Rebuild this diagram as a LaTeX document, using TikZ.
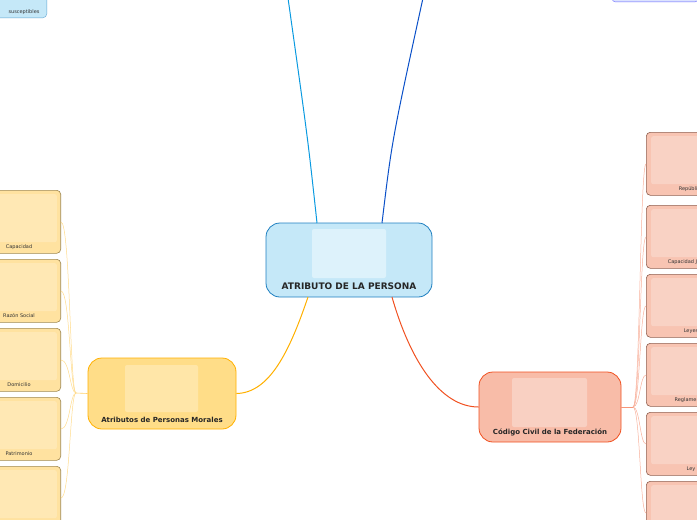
\documentclass[tikz,border=0pt]{standalone}
\usepackage{fontspec}
\setmainfont{DejaVu Sans}
\definecolor{cfill}{HTML}{C5E8F8}\definecolor{cline}{HTML}{1E7FC0}\definecolor{cin}{HTML}{DDF2FB}
\definecolor{ofill}{HTML}{FFDD88}\definecolor{oline}{HTML}{FFB000}\definecolor{oin}{HTML}{FFE6A8}
\definecolor{ochild}{HTML}{FFE2A0}\definecolor{ochin}{HTML}{FFE8B4}\definecolor{ochb}{HTML}{A08850}
\definecolor{rfill}{HTML}{F8BCA8}\definecolor{rline}{HTML}{F05020}\definecolor{rin}{HTML}{F9D0C2}
\definecolor{rchild}{HTML}{F8C4B2}\definecolor{rchin}{HTML}{F9D2C4}\definecolor{rchb}{HTML}{906050}
\definecolor{l1}{HTML}{0A9AE0}\definecolor{l2}{HTML}{0A50C8}
\begin{document}
\begin{tikzpicture}[x=1pt,y=-1pt,
  box/.style={draw,line width=0.8pt,rounded corners=14pt,inner sep=0pt},
  inbox/.style={rounded corners=2pt,inner sep=0pt},
  cbox/.style={draw=#1,line width=0.6pt,rounded corners=4pt,inner sep=0pt,minimum width=70pt,minimum height=63pt,anchor=north west},
  ttl/.style={font=\bfseries\fontsize{7}{9}\selectfont,text=black!85},
  sml/.style={font=\fontsize{5}{6}\selectfont,text=black!80}]
\useasboundingbox (0,0) rectangle (697,520);
\clip (0,0) rectangle (697,520);
% top lines
\coordinate (t1) at (288,-2); \coordinate (t2) at (423,-2);
% center
\node[box,draw=cline,fill=cfill,minimum width=166pt,minimum height=74pt] (c) at (349,260) {};
\node[inbox,fill=cin,minimum width=74pt,minimum height=49pt] (ci) at (349,253.5) {};
\node[ttl,font=\bfseries\fontsize{9}{10}\selectfont] (ct) at (349,286) {ATRIBUTO DE LA PERSONA};
\draw[color=l1,line width=1pt] (317,223) .. controls (308,140) .. (t1);
\draw[color=l2,line width=1pt] (382,223) .. controls (392,140) .. (t2);
% top fragments
\node[draw=cline!70,fill=cfill,rounded corners=4pt,minimum width=70pt,minimum height=40pt,anchor=south east] (tl) at (47,18) {};
\node[sml] (tlt) at (24,12) {susceptibles};
\node[draw=blue!60,fill=cfill!70!blue!30,rounded corners=3pt,minimum width=86pt,minimum height=20pt,anchor=south west] (tr) at (612,2) {};
% left main
\node[box,draw=oline,fill=ofill,minimum width=148pt,minimum height=71pt] (L) at (162,393.5) {};
\node[inbox,fill=oin,minimum width=73pt,minimum height=47pt] (Li) at (161.5,388.5) {};
\node[ttl] (Lt) at (162,420) {Atributos de Personas Morales};
\draw[color=oline,line width=1pt] (308,297) .. controls (290,350) and (270,393) .. (L.east);
\coordinate (lj) at (76,393);
\draw[color=oline!60,line width=0.6pt] (L.west) -- (lj);
\foreach \y/\t/\n in {190/Capacidad/a,259/Razón Social/b,328/Domicilio/c,397/Patrimonio/d,466/{}/e}{
  \node[cbox=ochb,fill=ochild,anchor=north east] (l\n) at (61,\y) {};
  \node[inbox,fill=ochin,minimum width=66pt,minimum height=48pt,anchor=north east] (l\n i) at (57,\y+4) {};
  \node[sml] (l\n t) at (19,\y+57) {\t};
  \draw[color=oline!45,line width=0.5pt] (lj) .. controls (70,393) and (70,\y+32) .. (61,\y+32);
}
% right main
\node[box,draw=rline,fill=rfill,minimum width=142pt,minimum height=70pt] (R) at (550,407) {};
\node[inbox,fill=rin,minimum width=75pt,minimum height=49pt] (Ri) at (549.5,402.5) {};
\node[ttl] (Rt) at (550,432) {Código Civil de la Federación};
\draw[color=rline,line width=1pt] (392,297) .. controls (410,360) and (440,407) .. (R.west);
\coordinate (rj) at (633,407);
\draw[color=rline!60,line width=0.6pt] (R.east) -- (rj);
\foreach \y/\t/\n in {132/República/a,205/Capacidad Jurídica/b,274/Leyes/c,343/Reglamentos/d,412/Ley/e,481/{}/f}{
  \node[cbox=rchb,fill=rchild,minimum width=90pt] (r\n) at (646,\y) {};
  \node[inbox,fill=rchin,minimum width=84pt,minimum height=48pt,anchor=north west] (r\n i) at (651,\y+4) {};
  \node[sml] (r\n t) at (691,\y+57) {\t};
  \draw[color=rline!45,line width=0.5pt] (rj) .. controls (640,407) and (640,\y+32) .. (646,\y+32);
}
\end{tikzpicture}
\end{document}
